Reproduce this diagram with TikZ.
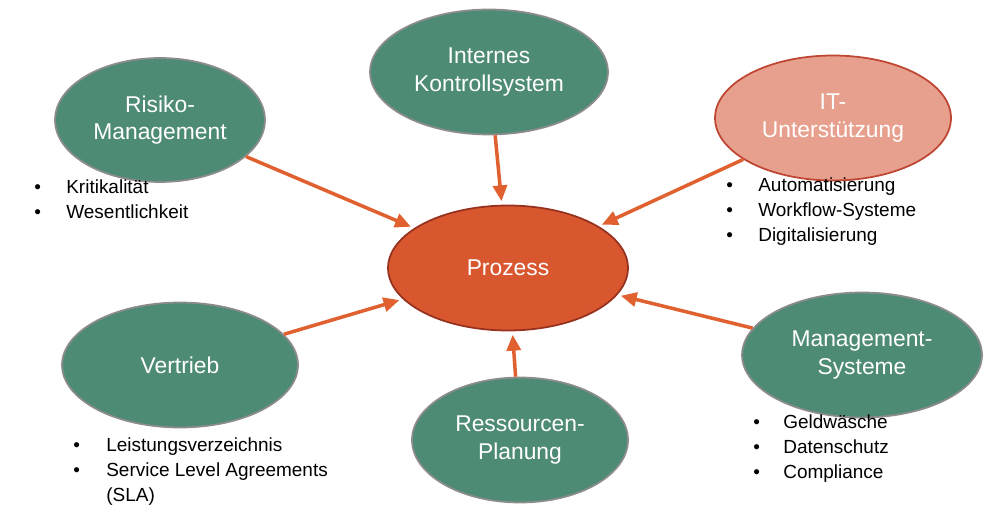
\documentclass[tikz,border=0pt]{standalone}
\usepackage{fontspec}
\setmainfont{Liberation Sans}
\usetikzlibrary{shapes.geometric,arrows.meta}
\definecolor{gfill}{RGB}{78,139,116}
\definecolor{itfill}{RGB}{232,160,142}
\definecolor{itdraw}{RGB}{190,70,50}
\definecolor{pfill}{RGB}{217,87,47}
\definecolor{pdraw}{RGB}{150,50,30}
\definecolor{arrc}{RGB}{224,96,48}
\begin{document}
\begin{tikzpicture}[x=0.02cm,y=-0.02cm,
  bub/.style={ellipse,draw=#1,line width=1pt,font=\fontsize{13}{15.5}\selectfont,text=white,align=center,inner sep=0pt},
  green/.style={bub=black!45,fill=gfill},
  arr/.style={draw=arrc,line width=2pt,shorten >=2pt,-{Triangle[length=9pt,width=8pt]}},
  lst/.style={anchor=north west,font=\fontsize{10.8}{14.2}\selectfont,align=left,inner sep=0pt}]
\useasboundingbox (0,0) rectangle (1000,520);
\node[green,minimum width=4.2cm,minimum height=2.48cm] (r) at (160,120) {Risiko-\\Management};
\node[green,minimum width=4.76cm,minimum height=2.5cm] (k) at (489,72) {Internes\\Kontrollsystem};
\node[bub=itdraw,fill=itfill,minimum width=4.72cm,minimum height=2.5cm] (it) at (833,118) {IT-\\Unterstützung};
\node[bub=pdraw,fill=pfill,minimum width=4.8cm,minimum height=2.5cm] (p) at (508,268) {Prozess};
\node[green,minimum width=4.72cm,minimum height=2.5cm] (v) at (180,365) {Vertrieb};
\node[green,minimum width=4.32cm,minimum height=2.5cm] (rp) at (520,440) {Ressourcen-\\Planung};
\node[green,minimum width=4.8cm,minimum height=2.5cm] (m) at (862,355) {Management-\\Systeme};
\draw[arr] (r) -- (p);
\draw[arr] (k) -- (p);
\draw[arr] (it) -- (p);
\draw[arr] (m) -- (p);
\draw[arr] (rp) -- (p);
\draw[arr] (v) -- (p);
\node[lst] (lr) at (34,176) {\begin{tabular}{@{}p{0.64cm}@{}l@{}}\textbullet&Kritikalität\\ \textbullet&Wesentlichkeit\end{tabular}};
\node[lst] (lit) at (726,174) {\begin{tabular}{@{}p{0.64cm}@{}l@{}}\textbullet&Automatisierung\\ \textbullet&Workflow-Systeme\\ \textbullet&Digitalisierung\end{tabular}};
\node[lst] (lm) at (753,411) {\begin{tabular}{@{}p{0.6cm}@{}l@{}}\textbullet&Geldwäsche\\ \textbullet&Datenschutz\\ \textbullet&Compliance\end{tabular}};
\node[lst] (lv) at (73,434) {\begin{tabular}{@{}p{0.66cm}@{}l@{}}\textbullet&Leistungsverzeichnis\\ \textbullet&Service Level Agreements\\ &(SLA)\end{tabular}};
\end{tikzpicture}
\end{document}
